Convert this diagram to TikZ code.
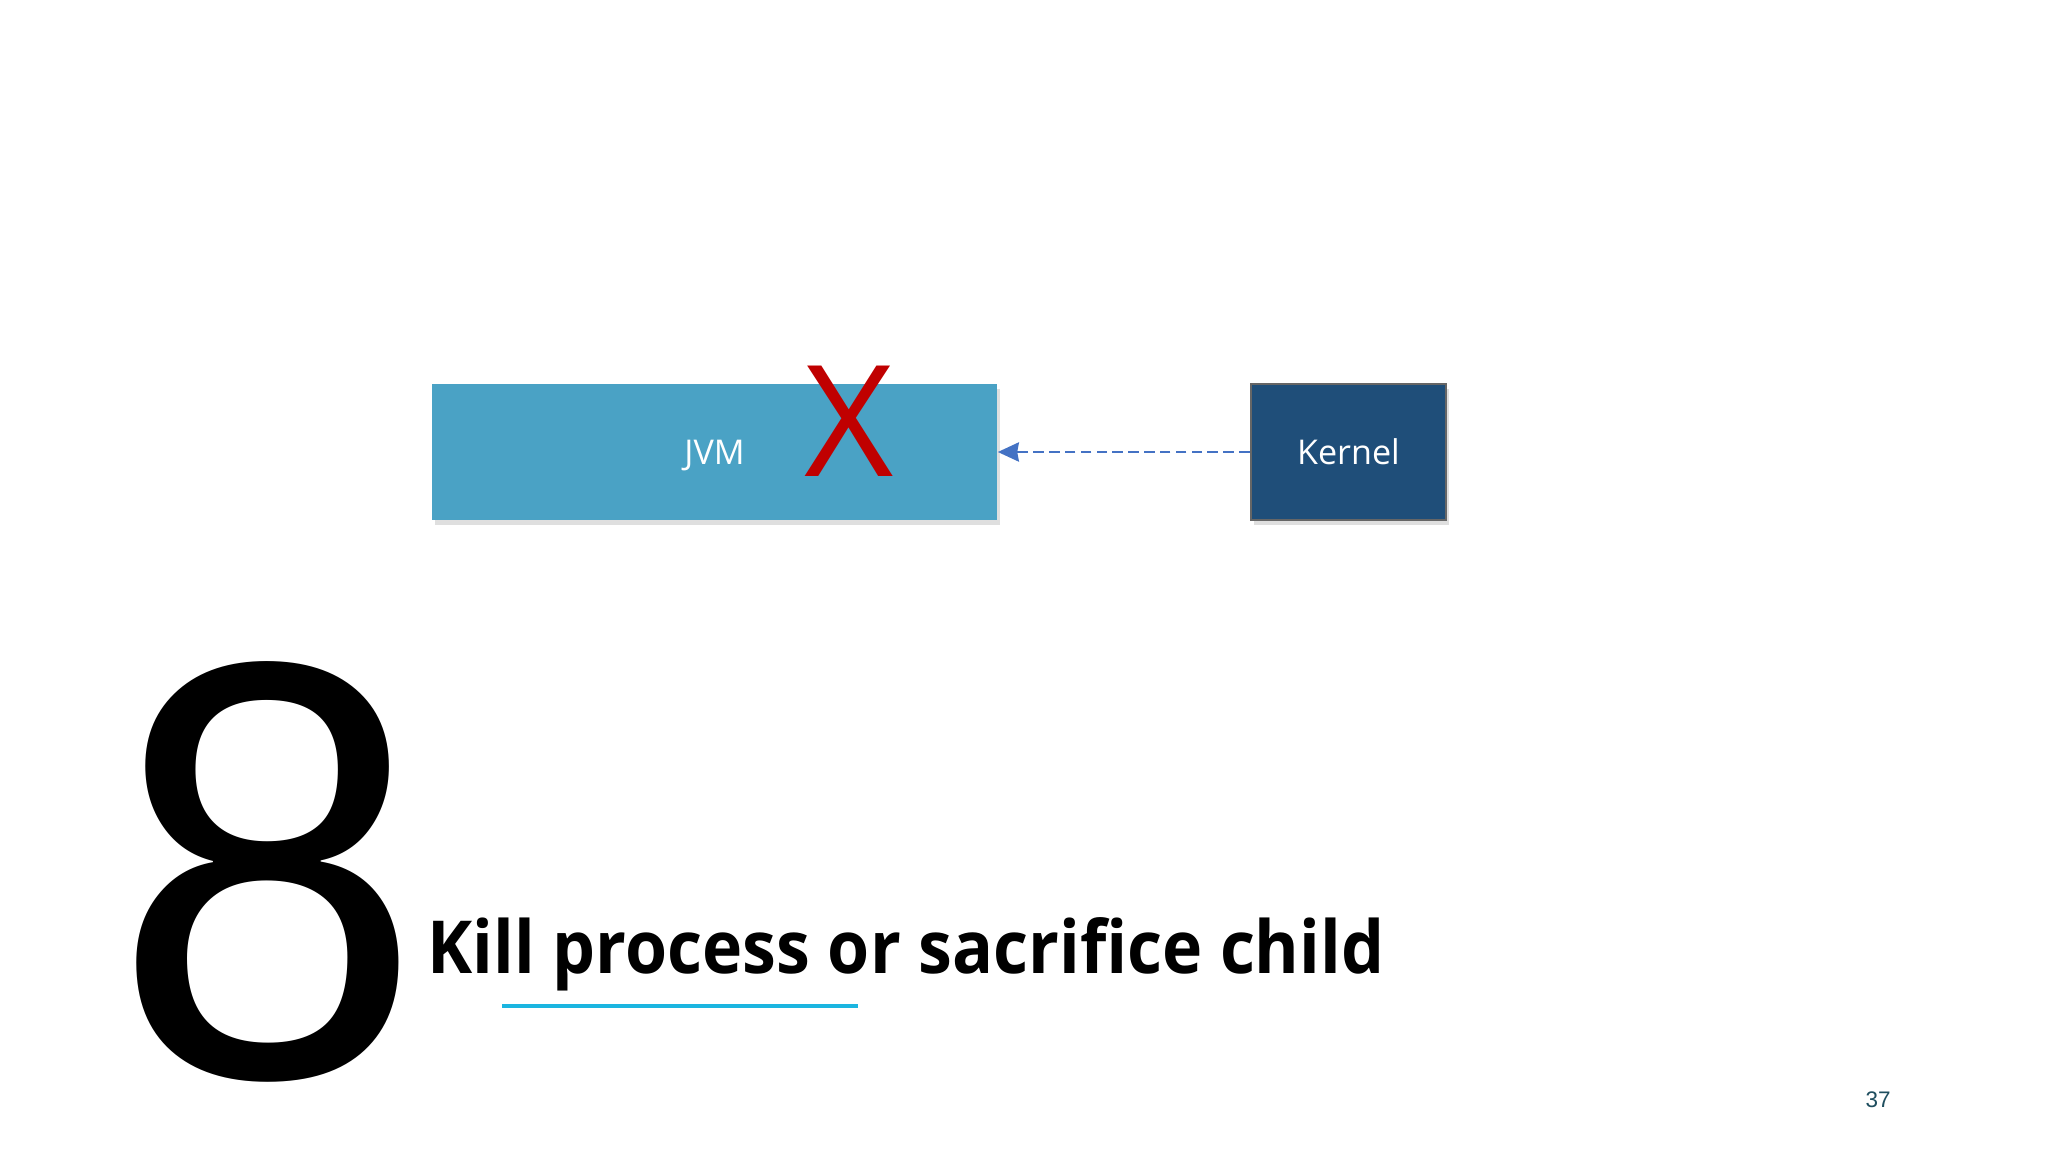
\documentclass[tikz,border=0pt]{standalone}
\usepackage{fontspec}
\usepackage{graphicx}
\setmainfont{Open Sans}
\newfontfamily\numfont{Liberation Sans}
\usetikzlibrary{arrows.meta,shadows}
\definecolor{jvmblue}{HTML}{4AA2C5}
\definecolor{kernblue}{HTML}{1F4E79}
\definecolor{arrowblue}{HTML}{4472C4}
\definecolor{xred}{HTML}{C00000}
\definecolor{ulcyan}{HTML}{1BB5E0}
\definecolor{pagenum}{HTML}{1F4E5F}
\tikzset{
  procbox/.style={rectangle, inner sep=0pt, text=white, font=\fontsize{9.7}{11}\selectfont,
    text height=1.34ex, text depth=0pt,
    drop shadow={shadow xshift=0.03cm, shadow yshift=-0.05cm, opacity=0.25}},
  signal/.style={draw=arrowblue, line width=0.55pt, dash pattern=on 3pt off 1.5pt, -{Stealth[length=6pt,width=5.5pt,inset=0.5pt]}}
}
\begin{document}
\begin{tikzpicture}[x=0.01cm,y=-0.01cm]
\useasboundingbox[fill=white] (0,0) rectangle (2048,1152);
\node[procbox, fill=jvmblue, minimum width=5.65cm, minimum height=1.36cm] (jvm) at (714.5,452) {JVM};
\node[procbox, fill=kernblue, draw=gray!80!black, line width=0.8pt, minimum width=1.95cm, minimum height=1.36cm] (kernel) at (1348.5,452) {Kernel};
\draw[signal] (kernel.west) -- (jvm.east);
\node[text=xred, inner sep=0pt, font=\fontsize{44}{44}\selectfont] (x) at (849,421) {X};
\node[inner sep=0pt, font=\numfont\fontsize{169}{169}\selectfont] (eight) at (268,872) {\scalebox{0.94}[1]{8}};
\node[anchor=base west, inner sep=0pt, font=\fontsize{20.8}{24}\selectfont\bfseries] (title) at (427,973) {\scalebox{0.93}[1]{Kill process or sacrifice child}};
\coordinate (ul1) at (502,1006);
\coordinate (ul2) at (858,1006);
\draw[ulcyan, line width=1.3pt] (ul1) -- (ul2);
\node[text=pagenum, inner sep=0pt, font=\numfont\fontsize{6.4}{7}\selectfont] (pg) at (1878,1100) {37};
\end{tikzpicture}
\end{document}
